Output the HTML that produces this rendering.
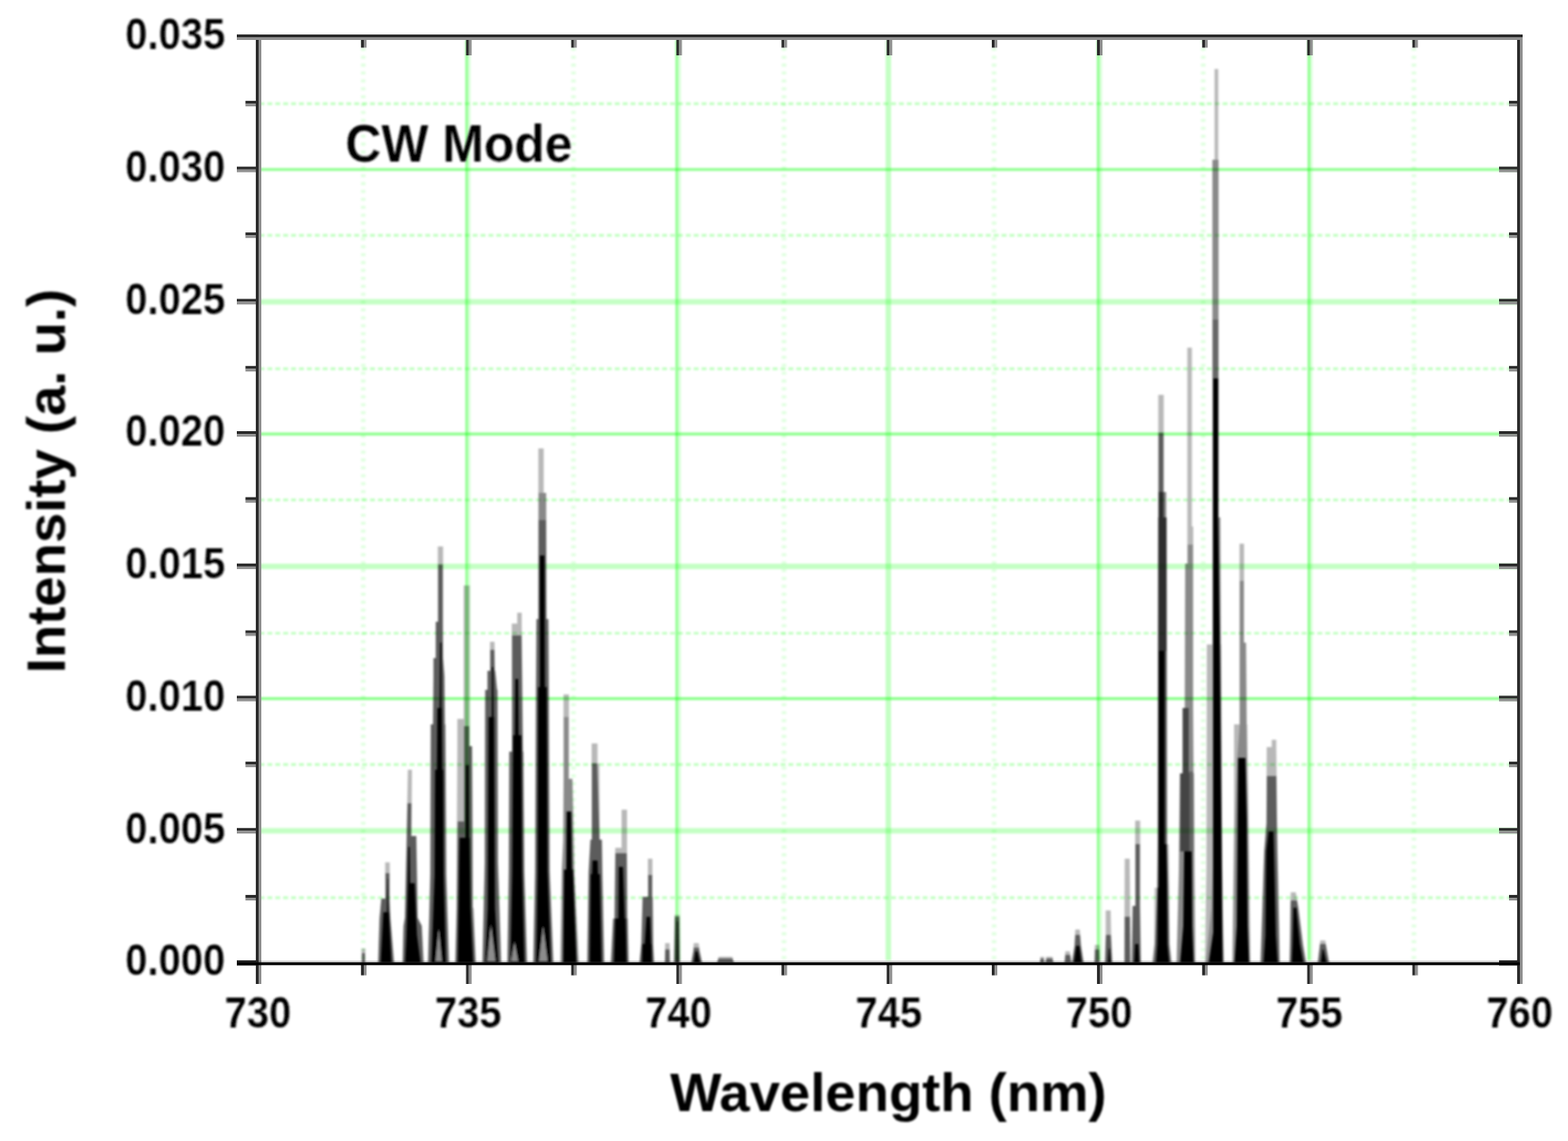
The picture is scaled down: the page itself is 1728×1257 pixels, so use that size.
<!DOCTYPE html>
<html lang="en"><head><meta charset="utf-8"><title>CW Mode spectrum</title>
<style>
html,body{margin:0;padding:0;background:#fff;}
body{width:1728px;height:1257px;overflow:hidden;}
svg{display:block;}
text{font-family:"Liberation Sans",sans-serif;font-weight:bold;fill:#000;}
.tk{font-size:44px;}
.ax{font-size:60px;}
.cw{font-size:55px;}
.tk,.cw{stroke:#fff;stroke-width:.1px;}
.gN{stroke:#00ff00;stroke-opacity:.45;stroke-width:2.7;fill:none;}
.gL{stroke:#00ff00;stroke-opacity:.16;stroke-width:3;fill:none;}
.gW{stroke:#00ff00;stroke-opacity:.23;stroke-width:6;fill:none;}
.gmv{stroke:#00ff00;stroke-opacity:.125;stroke-width:5;stroke-dasharray:3.3 5.4;fill:none;}
.gmh{stroke:#00ff00;stroke-opacity:.25;stroke-width:2.9;stroke-dasharray:5.4 3.3;fill:none;}
.d{stroke:#2a2a2a;stroke-width:3.2;fill:none;}
.g{stroke:#909090;stroke-width:3;fill:none;}
.s1{fill:#000;fill-opacity:.28;}
.s2{fill:#000;fill-opacity:.5;}
.sm{fill:#000;fill-opacity:.26;}
.s3{fill:#000;}
.h{fill:#fff;fill-opacity:.55;}
</style></head><body>
<svg width="1728" height="1257" viewBox="0 0 1728 1257">
<rect width="1728" height="1257" fill="#fff"/>
<defs><filter id="bl" x="-2%" y="-2%" width="104%" height="104%"><feGaussianBlur stdDeviation="0.9"/></filter><filter id="bg" x="-2%" y="-2%" width="104%" height="104%"><feGaussianBlur stdDeviation="1"/></filter><filter id="ba" x="-2%" y="-2%" width="104%" height="104%"><feGaussianBlur stdDeviation="0.6"/></filter><filter id="bt" x="-5%" y="-5%" width="110%" height="110%"><feGaussianBlur stdDeviation="0.8"/></filter></defs>
<g id="grid" filter="url(#bg)">
<line class="gmv" x1="400.3" y1="44" x2="400.3" y2="1058"/>
<line class="gmv" x1="632.0" y1="44" x2="632.0" y2="1058"/>
<line class="gmv" x1="864.0" y1="44" x2="864.0" y2="1058"/>
<line class="gmv" x1="1095.5" y1="44" x2="1095.5" y2="1058"/>
<line class="gmv" x1="1326.0" y1="44" x2="1326.0" y2="1058"/>
<line class="gmv" x1="1558.2" y1="44" x2="1558.2" y2="1058"/>
<line class="gmh" x1="286" y1="989.0" x2="1672" y2="989.0"/>
<line class="gmh" x1="286" y1="842.2" x2="1672" y2="842.2"/>
<line class="gmh" x1="286" y1="697.6" x2="1672" y2="697.6"/>
<line class="gmh" x1="286" y1="550.8" x2="1672" y2="550.8"/>
<line class="gmh" x1="286" y1="406.3" x2="1672" y2="406.3"/>
<line class="gmh" x1="286" y1="259.2" x2="1672" y2="259.2"/>
<line class="gmh" x1="286" y1="114.2" x2="1672" y2="114.2"/>
<line class="gN" x1="514.2" y1="44" x2="514.2" y2="1058"/>
<line class="gL" x1="517.0" y1="44" x2="517.0" y2="1058"/>
<line class="gN" x1="745.8" y1="44" x2="745.8" y2="1058"/>
<line class="gL" x1="748.8" y1="44" x2="748.8" y2="1058"/>
<line class="gW" x1="979.0" y1="44" x2="979.0" y2="1058"/>
<line class="gN" x1="1210.2" y1="44" x2="1210.2" y2="1058"/>
<line class="gL" x1="1213.0" y1="44" x2="1213.0" y2="1058"/>
<line class="gN" x1="1442.4" y1="44" x2="1442.4" y2="1058"/>
<line class="gL" x1="1445.0" y1="44" x2="1445.0" y2="1058"/>
<line class="gW" x1="286" y1="915.3" x2="1672" y2="915.3"/>
<line class="gN" style="stroke-width:3.1" x1="286" y1="769.6" x2="1672" y2="769.6"/>
<line class="gW" x1="286" y1="623.9" x2="1672" y2="623.9"/>
<line class="gN" style="stroke-width:3.1" x1="286" y1="478.1" x2="1672" y2="478.1"/>
<line class="gW" x1="286" y1="332.4" x2="1672" y2="332.4"/>
<line class="gN" style="stroke-width:3.1" x1="286" y1="186.7" x2="1672" y2="186.7"/>
</g>
<g id="spectrum" filter="url(#bl)">
<polygon class="s1" points="398.5,1045.0 398.5,1061.0 402.5,1061.0 402.5,1045.0"/>
<polygon class="s1" points="424.5,950.0 424.5,990.0 420.0,990.0 418.0,1012.0 416.5,1061.0 434.5,1061.0 430.5,1012.0 429.5,990.0 429.5,990.0 429.5,950.0"/>
<polygon class="s1" points="449.5,848.0 448.0,921.0 448.0,921.0 446.0,1011.0 444.5,1020.0 443.5,1061.0 467.0,1061.0 465.0,1020.0 460.5,1011.0 459.0,921.0 453.5,921.0 454.0,848.0"/>
<polygon class="s1" points="482.5,602.0 482.5,685.0 480.0,685.0 480.0,725.0 477.5,725.0 477.5,745.0 477.0,798.0 474.5,798.0 474.0,963.0 471.5,1061.0 495.0,1061.0 492.0,963.0 491.0,798.0 490.5,798.0 490.0,745.0 488.5,725.0 488.5,725.0 488.3,685.0 488.3,685.0 488.3,602.0"/>
<polygon class="s1" points="511.0,645.0 511.0,792.0 504.0,792.0 504.0,822.0 504.0,822.0 503.0,1000.0 503.0,1000.0 501.5,1061.0 524.5,1061.0 522.0,1000.0 521.0,1000.0 520.5,822.0 517.5,822.0 517.5,792.0 517.5,792.0 517.5,645.0"/>
<polygon class="s1" points="540.0,707.0 540.0,739.0 537.0,739.0 537.0,760.0 534.5,760.0 534.0,950.0 531.5,1061.0 552.5,1061.0 549.0,950.0 548.5,760.0 548.0,760.0 546.0,739.0 545.5,739.0 545.0,707.0"/>
<polygon class="s1" points="570.0,675.0 570.0,687.0 564.0,687.0 564.0,828.0 561.0,828.0 560.5,960.0 559.0,1061.0 581.0,1061.0 578.0,960.0 577.0,828.0 576.5,828.0 575.0,687.0 575.0,687.0 575.0,675.0"/>
<polygon class="s1" points="593.3,494.0 593.3,543.0 593.3,543.0 593.0,682.0 591.0,682.0 590.5,757.0 589.5,960.0 587.5,1061.0 610.0,1061.0 606.0,960.0 605.0,757.0 604.5,682.0 602.5,682.0 602.0,543.0 599.2,543.0 599.2,494.0"/>
<polygon class="s1" points="621.0,765.0 621.0,858.0 621.0,858.0 620.5,927.0 619.0,958.0 617.5,1061.0 638.0,1061.0 633.0,958.0 632.5,927.0 631.0,858.0 627.0,858.0 627.0,765.0"/>
<polygon class="s1" points="652.0,819.0 652.0,841.0 652.0,841.0 652.0,925.0 650.5,925.0 648.5,960.0 647.0,1061.0 666.0,1061.0 664.0,960.0 663.5,925.0 661.0,925.0 660.5,841.0 658.5,841.0 658.5,819.0"/>
<polygon class="s1" points="685.0,892.0 685.0,934.0 678.0,934.0 677.0,1012.0 675.5,1012.0 673.0,1061.0 693.0,1061.0 692.0,1012.0 691.5,1012.0 691.0,934.0 691.0,934.0 691.0,892.0"/>
<polygon class="s1" points="714.0,946.0 714.0,988.0 708.0,988.0 706.5,1040.0 704.5,1061.0 721.0,1061.0 720.0,1040.0 719.5,988.0 719.0,988.0 719.0,946.0"/>
<polygon class="s1" points="743.5,1008.0 742.5,1061.0 749.5,1061.0 749.0,1008.0"/>
<polygon class="s1" points="733.0,1039.0 732.5,1061.0 738.5,1061.0 738.0,1039.0"/>
<polygon class="s1" points="764.5,1039.0 764.0,1047.0 761.5,1061.0 774.0,1061.0 771.0,1047.0 770.0,1039.0"/>
<polygon class="s1" points="792.0,1054.0 790.0,1061.0 809.0,1061.0 807.0,1054.0"/>
<polygon class="s1" points="1146.5,1054.0 1146.0,1061.0 1151.0,1061.0 1150.5,1054.0"/>
<polygon class="s1" points="1153.0,1054.0 1152.0,1061.0 1161.0,1061.0 1160.0,1054.0"/>
<polygon class="s1" points="1185.0,1024.0 1184.0,1042.0 1181.0,1061.0 1194.5,1061.0 1191.5,1042.0 1190.0,1024.0"/>
<polygon class="s1" points="1174.0,1048.0 1173.0,1061.0 1181.0,1061.0 1179.0,1048.0"/>
<polygon class="s1" points="1206.5,1041.0 1206.0,1061.0 1212.0,1061.0 1211.5,1041.0"/>
<polygon class="s1" points="1218.5,1003.0 1218.5,1030.0 1217.5,1061.0 1226.0,1061.0 1224.5,1030.0 1224.0,1003.0"/>
<polygon class="s1" points="1239.5,946.0 1239.0,1061.0 1246.0,1061.0 1245.0,946.0"/>
<polygon class="s1" points="1251.0,904.0 1251.0,998.0 1248.0,998.0 1247.0,1061.0 1257.5,1061.0 1256.5,998.0 1256.5,998.0 1256.5,904.0"/>
<polygon class="s1" points="1276.5,435.0 1276.5,570.0 1276.0,570.0 1275.5,930.0 1275.5,930.0 1275.0,978.0 1272.5,978.0 1272.0,1040.0 1269.5,1061.0 1291.5,1061.0 1289.0,1040.0 1288.5,978.0 1288.5,978.0 1288.0,930.0 1286.5,930.0 1286.0,570.0 1282.5,570.0 1282.5,435.0"/>
<polygon class="s1" points="1308.5,383.0 1308.5,580.0 1308.5,580.0 1308.5,621.0 1306.0,621.0 1305.5,780.0 1303.0,780.0 1303.0,852.0 1300.0,852.0 1299.0,960.0 1296.5,1061.0 1317.5,1061.0 1316.5,960.0 1316.0,852.0 1315.5,852.0 1315.0,780.0 1315.0,780.0 1315.0,621.0 1315.0,621.0 1315.0,580.0 1313.5,580.0 1313.5,383.0"/>
<polygon class="s1" points="1338.5,76.0 1338.5,176.0 1336.0,176.0 1336.0,570.0 1336.0,570.0 1336.0,710.0 1330.0,710.0 1329.5,955.0 1328.0,1061.0 1349.0,1061.0 1347.0,955.0 1346.0,710.0 1345.5,710.0 1345.0,570.0 1343.0,570.0 1343.0,176.0 1342.5,176.0 1342.5,76.0"/>
<polygon class="s1" points="1366.0,599.0 1366.0,708.0 1366.0,708.0 1366.0,798.0 1360.0,798.0 1360.0,903.0 1358.0,1061.0 1378.0,1061.0 1376.0,903.0 1374.5,798.0 1374.0,798.0 1373.3,708.0 1371.0,708.0 1371.0,599.0"/>
<polygon class="s1" points="1401.5,815.0 1401.5,823.0 1396.0,823.0 1395.5,907.0 1393.0,938.0 1389.0,1061.0 1410.5,1061.0 1408.0,938.0 1407.5,907.0 1406.5,823.0 1406.5,823.0 1406.5,815.0"/>
<polygon class="s1" points="1422.5,983.0 1422.0,1000.0 1421.5,1040.0 1421.0,1061.0 1439.5,1061.0 1436.0,1040.0 1431.0,1000.0 1428.0,983.0"/>
<polygon class="s1" points="1455.0,1036.0 1452.0,1061.0 1465.0,1061.0 1460.5,1036.0"/>
<polygon class="sm" points="621.4,790.0 621.4,858.0 621.4,858.0 620.9,927.0 619.4,958.0 617.9,1061.0 637.6,1061.0 632.6,958.0 632.1,927.0 630.6,858.0 626.6,858.0 626.6,790.0"/>
<polygon class="sm" points="593.6,543.0 593.6,573.0 601.7,573.0 601.7,543.0"/>
<polygon class="sm" points="1308.9,600.0 1308.9,621.0 1306.4,621.0 1305.9,780.0 1303.4,780.0 1303.4,852.0 1300.4,852.0 1299.4,960.0 1296.9,1061.0 1317.1,1061.0 1316.1,960.0 1315.6,852.0 1315.1,852.0 1314.6,780.0 1314.6,780.0 1314.6,621.0 1314.6,621.0 1314.6,600.0"/>
<polygon class="sm" points="1310.0,850.0 1310.0,938.0 1314.8,938.0 1314.8,850.0"/>
<polygon class="sm" points="1336.3,176.0 1336.3,570.0 1336.3,570.0 1336.3,955.0 1335.0,1000.0 1329.0,1061.0 1348.5,1061.0 1347.0,1000.0 1346.5,955.0 1344.7,570.0 1342.7,570.0 1342.7,176.0"/>
<polygon class="sm" points="1336.5,352.0 1336.5,417.0 1342.5,417.0 1342.5,352.0"/>
<polygon class="sm" points="1366.3,640.0 1366.3,708.0 1366.3,708.0 1366.3,798.0 1363.5,835.0 1361.0,903.0 1358.5,1061.0 1377.5,1061.0 1375.5,903.0 1374.0,835.0 1373.7,798.0 1373.0,708.0 1370.7,708.0 1370.7,640.0"/>
<polygon class="s2" points="398.9,1050.0 398.9,1061.0 402.1,1061.0 402.1,1050.0"/>
<polygon class="s2" points="424.9,962.0 424.9,990.0 420.4,990.0 418.4,1012.0 416.9,1061.0 434.1,1061.0 430.1,1012.0 429.1,990.0 429.1,990.0 429.1,962.0"/>
<polygon class="s2" points="449.1,885.0 448.4,921.0 448.4,921.0 446.4,1011.0 444.9,1020.0 443.9,1061.0 466.6,1061.0 464.6,1020.0 460.1,1011.0 458.6,921.0 453.1,921.0 453.3,885.0"/>
<polygon class="s2" points="482.9,622.0 482.9,685.0 480.4,685.0 480.4,725.0 477.9,725.0 477.9,745.0 477.4,798.0 474.9,798.0 474.4,963.0 471.9,1061.0 494.6,1061.0 491.6,963.0 490.6,798.0 490.1,798.0 489.6,745.0 488.1,725.0 488.1,725.0 487.9,685.0 487.9,685.0 487.9,622.0"/>
<polygon class="s2" points="511.5,800.0 511.5,822.0 511.5,822.0 511.5,905.0 504.5,905.0 503.5,1000.0 502.0,1061.0 524.0,1061.0 521.0,1000.0 520.5,905.0 520.5,905.0 520.0,822.0 517.0,822.0 517.0,800.0"/>
<polygon class="s2" points="540.4,716.0 540.4,739.0 537.4,739.0 537.4,760.0 534.9,760.0 534.4,950.0 531.9,1061.0 552.1,1061.0 548.6,950.0 548.1,760.0 547.6,760.0 545.6,739.0 545.1,739.0 544.7,716.0"/>
<polygon class="s2" points="564.4,700.0 564.4,828.0 561.4,828.0 560.9,960.0 559.4,1061.0 580.6,1061.0 577.6,960.0 576.6,828.0 576.1,828.0 574.7,700.0"/>
<polygon class="s2" points="593.6,573.0 593.4,682.0 591.4,682.0 590.9,757.0 589.9,960.0 587.9,1061.0 609.6,1061.0 605.6,960.0 604.6,757.0 604.1,682.0 602.1,682.0 601.7,573.0"/>
<polygon class="s2" points="652.4,841.0 652.4,925.0 650.9,925.0 648.9,960.0 647.4,1061.0 665.6,1061.0 663.6,960.0 663.1,925.0 660.6,925.0 658.1,841.0"/>
<polygon class="s2" points="678.3,940.0 677.4,1012.0 675.9,1012.0 673.4,1061.0 692.6,1061.0 691.6,1012.0 691.1,1012.0 690.6,940.0"/>
<polygon class="s2" points="714.4,964.0 714.4,988.0 708.4,988.0 706.9,1040.0 704.9,1061.0 720.6,1061.0 719.6,1040.0 719.1,988.0 718.6,988.0 718.6,964.0"/>
<polygon class="s2" points="743.9,1010.0 742.9,1061.0 749.1,1061.0 748.6,1010.0"/>
<polygon class="s2" points="733.2,1046.0 732.9,1061.0 738.1,1061.0 737.8,1046.0"/>
<polygon class="s2" points="764.6,1044.0 764.4,1047.0 761.9,1061.0 773.6,1061.0 770.6,1047.0 770.2,1044.0"/>
<polygon class="s2" points="791.8,1056.0 790.4,1061.0 808.6,1061.0 807.2,1056.0"/>
<polygon class="s2" points="1146.8,1056.0 1146.4,1061.0 1150.6,1061.0 1150.2,1056.0"/>
<polygon class="s2" points="1153.1,1056.0 1152.4,1061.0 1160.6,1061.0 1159.9,1056.0"/>
<polygon class="s2" points="1185.1,1030.0 1184.4,1042.0 1181.4,1061.0 1194.1,1061.0 1191.1,1042.0 1190.1,1030.0"/>
<polygon class="s2" points="1174.1,1052.0 1173.4,1061.0 1180.6,1061.0 1179.2,1052.0"/>
<polygon class="s2" points="1206.8,1046.0 1206.4,1061.0 1211.6,1061.0 1211.2,1046.0"/>
<polygon class="s2" points="1218.9,1030.0 1217.9,1061.0 1225.6,1061.0 1224.1,1030.0"/>
<polygon class="s2" points="1239.6,1010.0 1239.4,1061.0 1245.6,1061.0 1245.2,1010.0"/>
<polygon class="s2" points="1251.4,930.0 1251.4,998.0 1248.4,998.0 1247.4,1061.0 1257.1,1061.0 1256.1,998.0 1256.1,998.0 1256.1,930.0"/>
<polygon class="s2" points="1276.8,477.0 1276.8,570.0 1276.5,570.0 1276.0,930.0 1275.5,978.0 1273.0,1040.0 1271.0,1061.0 1290.5,1061.0 1288.5,1040.0 1287.5,978.0 1286.0,930.0 1285.5,570.0 1282.2,570.0 1282.2,477.0"/>
<polygon class="s2" points="1276.8,542.0 1276.8,717.0 1285.2,717.0 1285.2,542.0"/>
<polygon class="s2" points="1303.5,780.0 1303.5,852.0 1301.0,852.0 1300.5,938.0 1310.5,938.0 1310.5,852.0 1310.0,852.0 1310.0,780.0"/>
<polygon class="s2" points="1396.2,855.0 1395.9,907.0 1393.4,938.0 1389.4,1061.0 1410.1,1061.0 1407.6,938.0 1407.1,907.0 1406.5,855.0"/>
<polygon class="s2" points="1422.6,992.0 1422.4,1000.0 1421.9,1040.0 1421.4,1061.0 1439.1,1061.0 1435.6,1040.0 1430.6,1000.0 1429.2,992.0"/>
<polygon class="s2" points="1454.9,1040.0 1452.4,1061.0 1464.6,1061.0 1460.8,1040.0"/>
<polygon class="s3" points="427.0,968.0 426.5,1005.0 422.5,1005.0 419.5,1061.0 431.5,1061.0 428.5,1005.0 428.0,1005.0 427.5,968.0"/>
<polygon class="s3" points="450.0,933.0 449.5,973.0 449.5,973.0 448.0,1030.0 446.5,1061.0 463.5,1061.0 459.5,1030.0 457.0,973.0 452.0,973.0 451.5,933.0"/>
<polygon class="s3" points="485.0,708.0 484.5,780.0 482.0,780.0 481.5,848.0 479.5,848.0 479.0,963.0 475.5,1061.0 491.5,1061.0 489.0,963.0 488.5,848.0 487.5,848.0 487.0,780.0 486.5,780.0 486.5,708.0"/>
<polygon class="s3" points="513.5,843.0 513.2,923.0 506.5,923.0 505.5,1000.0 504.5,1061.0 521.5,1061.0 518.5,1000.0 517.5,923.0 516.8,923.0 516.5,843.0"/>
<polygon class="s3" points="542.0,735.0 542.0,790.0 538.5,790.0 537.5,1000.0 535.0,1061.0 549.0,1061.0 545.5,1000.0 544.5,790.0 544.0,790.0 543.5,735.0"/>
<polygon class="s3" points="568.0,748.0 567.5,810.0 565.5,810.0 564.5,960.0 562.5,1061.0 578.0,1061.0 575.5,960.0 574.5,810.0 571.5,810.0 571.0,748.0"/>
<polygon class="s3" points="595.0,612.0 595.0,757.0 593.2,757.0 592.5,960.0 591.0,1061.0 607.0,1061.0 603.5,960.0 602.5,757.0 600.5,757.0 600.0,612.0"/>
<polygon class="s3" points="624.5,894.0 624.0,958.0 621.5,958.0 620.5,1061.0 635.5,1061.0 631.5,958.0 630.5,958.0 629.5,894.0"/>
<polygon class="s3" points="653.0,948.0 652.5,963.0 651.0,963.0 650.0,1061.0 663.0,1061.0 661.0,963.0 659.0,963.0 658.5,948.0"/>
<polygon class="s3" points="682.0,955.0 681.5,1012.0 678.0,1012.0 676.5,1061.0 690.5,1061.0 689.5,1012.0 688.5,1012.0 686.5,955.0"/>
<polygon class="s3" points="712.5,1010.0 710.5,1040.0 708.0,1040.0 707.5,1061.0 718.5,1061.0 718.0,1040.0 717.5,1040.0 716.5,1010.0"/>
<polygon class="s3" points="746.0,1015.0 745.5,1061.0 747.5,1061.0 747.0,1015.0"/>
<polygon class="s3" points="766.5,1048.0 764.5,1061.0 771.5,1061.0 768.5,1048.0"/>
<polygon class="s3" points="1186.0,1042.0 1183.5,1061.0 1192.0,1061.0 1189.5,1042.0"/>
<polygon class="s3" points="1222.0,1045.0 1221.0,1061.0 1224.0,1061.0 1223.0,1045.0"/>
<polygon class="s3" points="1251.0,1040.0 1250.0,1061.0 1255.5,1061.0 1254.5,1040.0"/>
<polygon class="s3" points="1277.0,717.0 1277.0,930.0 1277.0,930.0 1277.0,978.0 1276.0,978.0 1275.5,1040.0 1274.0,1061.0 1288.5,1061.0 1286.5,1040.0 1286.0,978.0 1286.0,978.0 1285.5,930.0 1283.5,930.0 1283.5,717.0"/>
<polygon class="s3" points="1305.0,938.0 1304.0,1020.0 1300.5,1061.0 1315.5,1061.0 1314.0,1020.0 1313.5,938.0"/>
<polygon class="s3" points="1337.0,417.0 1337.0,570.0 1337.0,733.0 1337.0,955.0 1337.0,1027.0 1332.0,1061.0 1347.5,1061.0 1347.0,1027.0 1346.5,955.0 1344.5,733.0 1342.5,570.0 1342.5,417.0"/>
<polygon class="s3" points="1364.5,835.0 1364.0,903.0 1363.0,1020.0 1360.5,1061.0 1376.5,1061.0 1375.0,1020.0 1374.0,903.0 1372.5,835.0"/>
<polygon class="s3" points="1398.0,916.0 1395.5,938.0 1394.5,1030.0 1392.5,1061.0 1408.0,1061.0 1406.0,1030.0 1404.0,938.0 1403.5,916.0"/>
<polygon class="s3" points="1425.5,1000.0 1424.5,1040.0 1423.5,1061.0 1436.5,1061.0 1432.5,1040.0 1428.5,1000.0"/>
<polygon class="s3" points="1457.5,1046.0 1455.5,1061.0 1462.0,1061.0 1458.5,1046.0"/>
<polygon class="h" points="483.5,1023.0 480.0,1059.0 487.0,1059.0"/>
<polygon class="h" points="541.0,1018.0 537.0,1059.0 546.0,1059.0"/>
<polygon class="h" points="567.0,1037.0 563.5,1059.0 571.0,1059.0"/>
<polygon class="h" points="598.5,1020.0 594.0,1059.0 603.5,1059.0"/>
</g>
<g id="axes" filter="url(#ba)">
<line class="d" x1="399.4" y1="41" x2="399.4" y2="52.5"/>
<line class="g" x1="402.4" y1="41" x2="402.4" y2="52.5"/>
<line class="d" x1="399.4" y1="1061" x2="399.4" y2="1074.5"/>
<line class="g" x1="402.4" y1="1061" x2="402.4" y2="1074.5"/>
<line class="d" x1="515.2" y1="41" x2="515.2" y2="61"/>
<line class="g" x1="518.2" y1="41" x2="518.2" y2="61"/>
<line class="d" x1="515.2" y1="1061" x2="515.2" y2="1084"/>
<line class="g" x1="518.2" y1="1061" x2="518.2" y2="1084"/>
<line class="d" x1="631.1" y1="41" x2="631.1" y2="52.5"/>
<line class="g" x1="634.1" y1="41" x2="634.1" y2="52.5"/>
<line class="d" x1="631.1" y1="1061" x2="631.1" y2="1074.5"/>
<line class="g" x1="634.1" y1="1061" x2="634.1" y2="1074.5"/>
<line class="d" x1="747.0" y1="41" x2="747.0" y2="61"/>
<line class="g" x1="750.0" y1="41" x2="750.0" y2="61"/>
<line class="d" x1="747.0" y1="1061" x2="747.0" y2="1084"/>
<line class="g" x1="750.0" y1="1061" x2="750.0" y2="1084"/>
<line class="d" x1="862.9" y1="41" x2="862.9" y2="52.5"/>
<line class="g" x1="865.9" y1="41" x2="865.9" y2="52.5"/>
<line class="d" x1="862.9" y1="1061" x2="862.9" y2="1074.5"/>
<line class="g" x1="865.9" y1="1061" x2="865.9" y2="1074.5"/>
<line class="d" x1="978.8" y1="41" x2="978.8" y2="61"/>
<line class="g" x1="981.8" y1="41" x2="981.8" y2="61"/>
<line class="d" x1="978.8" y1="1061" x2="978.8" y2="1084"/>
<line class="g" x1="981.8" y1="1061" x2="981.8" y2="1084"/>
<line class="d" x1="1094.6" y1="41" x2="1094.6" y2="52.5"/>
<line class="g" x1="1097.6" y1="41" x2="1097.6" y2="52.5"/>
<line class="d" x1="1094.6" y1="1061" x2="1094.6" y2="1074.5"/>
<line class="g" x1="1097.6" y1="1061" x2="1097.6" y2="1074.5"/>
<line class="d" x1="1210.5" y1="41" x2="1210.5" y2="61"/>
<line class="g" x1="1213.5" y1="41" x2="1213.5" y2="61"/>
<line class="d" x1="1210.5" y1="1061" x2="1210.5" y2="1084"/>
<line class="g" x1="1213.5" y1="1061" x2="1213.5" y2="1084"/>
<line class="d" x1="1326.4" y1="41" x2="1326.4" y2="52.5"/>
<line class="g" x1="1329.4" y1="41" x2="1329.4" y2="52.5"/>
<line class="d" x1="1326.4" y1="1061" x2="1326.4" y2="1074.5"/>
<line class="g" x1="1329.4" y1="1061" x2="1329.4" y2="1074.5"/>
<line class="d" x1="1442.2" y1="41" x2="1442.2" y2="61"/>
<line class="g" x1="1445.2" y1="41" x2="1445.2" y2="61"/>
<line class="d" x1="1442.2" y1="1061" x2="1442.2" y2="1084"/>
<line class="g" x1="1445.2" y1="1061" x2="1445.2" y2="1084"/>
<line class="d" x1="1558.1" y1="41" x2="1558.1" y2="52.5"/>
<line class="g" x1="1561.1" y1="41" x2="1561.1" y2="52.5"/>
<line class="d" x1="1558.1" y1="1061" x2="1558.1" y2="1074.5"/>
<line class="g" x1="1561.1" y1="1061" x2="1561.1" y2="1074.5"/>
<line class="d" x1="261" y1="1059.5" x2="285" y2="1059.5"/>
<line class="g" x1="261" y1="1062.5" x2="285" y2="1062.5"/>
<line class="d" x1="1652" y1="1059.5" x2="1675" y2="1059.5"/>
<line class="g" x1="1652" y1="1062.5" x2="1675" y2="1062.5"/>
<line class="d" x1="270.5" y1="987.5" x2="285" y2="987.5"/>
<line class="g" x1="270.5" y1="990.5" x2="285" y2="990.5"/>
<line class="d" x1="1663" y1="987.5" x2="1675" y2="987.5"/>
<line class="g" x1="1663" y1="990.5" x2="1675" y2="990.5"/>
<line class="d" x1="261" y1="913.8" x2="285" y2="913.8"/>
<line class="g" x1="261" y1="916.8" x2="285" y2="916.8"/>
<line class="d" x1="1652" y1="913.8" x2="1675" y2="913.8"/>
<line class="g" x1="1652" y1="916.8" x2="1675" y2="916.8"/>
<line class="d" x1="270.5" y1="840.7" x2="285" y2="840.7"/>
<line class="g" x1="270.5" y1="843.7" x2="285" y2="843.7"/>
<line class="d" x1="1663" y1="840.7" x2="1675" y2="840.7"/>
<line class="g" x1="1663" y1="843.7" x2="1675" y2="843.7"/>
<line class="d" x1="261" y1="768.1" x2="285" y2="768.1"/>
<line class="g" x1="261" y1="771.1" x2="285" y2="771.1"/>
<line class="d" x1="1652" y1="768.1" x2="1675" y2="768.1"/>
<line class="g" x1="1652" y1="771.1" x2="1675" y2="771.1"/>
<line class="d" x1="270.5" y1="696.1" x2="285" y2="696.1"/>
<line class="g" x1="270.5" y1="699.1" x2="285" y2="699.1"/>
<line class="d" x1="1663" y1="696.1" x2="1675" y2="696.1"/>
<line class="g" x1="1663" y1="699.1" x2="1675" y2="699.1"/>
<line class="d" x1="261" y1="622.4" x2="285" y2="622.4"/>
<line class="g" x1="261" y1="625.4" x2="285" y2="625.4"/>
<line class="d" x1="1652" y1="622.4" x2="1675" y2="622.4"/>
<line class="g" x1="1652" y1="625.4" x2="1675" y2="625.4"/>
<line class="d" x1="270.5" y1="549.3" x2="285" y2="549.3"/>
<line class="g" x1="270.5" y1="552.3" x2="285" y2="552.3"/>
<line class="d" x1="1663" y1="549.3" x2="1675" y2="549.3"/>
<line class="g" x1="1663" y1="552.3" x2="1675" y2="552.3"/>
<line class="d" x1="261" y1="476.6" x2="285" y2="476.6"/>
<line class="g" x1="261" y1="479.6" x2="285" y2="479.6"/>
<line class="d" x1="1652" y1="476.6" x2="1675" y2="476.6"/>
<line class="g" x1="1652" y1="479.6" x2="1675" y2="479.6"/>
<line class="d" x1="270.5" y1="404.8" x2="285" y2="404.8"/>
<line class="g" x1="270.5" y1="407.8" x2="285" y2="407.8"/>
<line class="d" x1="1663" y1="404.8" x2="1675" y2="404.8"/>
<line class="g" x1="1663" y1="407.8" x2="1675" y2="407.8"/>
<line class="d" x1="261" y1="330.9" x2="285" y2="330.9"/>
<line class="g" x1="261" y1="333.9" x2="285" y2="333.9"/>
<line class="d" x1="1652" y1="330.9" x2="1675" y2="330.9"/>
<line class="g" x1="1652" y1="333.9" x2="1675" y2="333.9"/>
<line class="d" x1="270.5" y1="257.7" x2="285" y2="257.7"/>
<line class="g" x1="270.5" y1="260.7" x2="285" y2="260.7"/>
<line class="d" x1="1663" y1="257.7" x2="1675" y2="257.7"/>
<line class="g" x1="1663" y1="260.7" x2="1675" y2="260.7"/>
<line class="d" x1="261" y1="185.2" x2="285" y2="185.2"/>
<line class="g" x1="261" y1="188.2" x2="285" y2="188.2"/>
<line class="d" x1="1652" y1="185.2" x2="1675" y2="185.2"/>
<line class="g" x1="1652" y1="188.2" x2="1675" y2="188.2"/>
<line class="d" x1="270.5" y1="112.7" x2="285" y2="112.7"/>
<line class="g" x1="270.5" y1="115.7" x2="285" y2="115.7"/>
<line class="d" x1="1663" y1="112.7" x2="1675" y2="112.7"/>
<line class="g" x1="1663" y1="115.7" x2="1675" y2="115.7"/>
<line class="d" x1="261" y1="39.5" x2="285" y2="39.5"/>
<line class="g" x1="261" y1="42.5" x2="285" y2="42.5"/>
<line class="d" x1="1652" y1="39.5" x2="1675" y2="39.5"/>
<line class="g" x1="1652" y1="42.5" x2="1675" y2="42.5"/>
<line class="d" x1="283.5" y1="38" x2="283.5" y2="1084"/>
<line class="g" x1="286.5" y1="38" x2="286.5" y2="1084"/>
<line class="d" x1="1673.5" y1="38" x2="1673.5" y2="1084"/>
<line class="g" x1="1676.5" y1="38" x2="1676.5" y2="1084"/>
<line class="d" x1="261" y1="39.5" x2="1678" y2="39.5"/>
<line class="g" x1="261" y1="42.5" x2="1678" y2="42.5"/>
<rect x="261" y="1058.4" width="1414" height="1.8" fill="#000" fill-opacity=".2"/>
<rect x="261" y="1060.2" width="1414" height="3.1" fill="#000"/>
</g>
<g id="labels" filter="url(#bt)">
<text class="tk" text-anchor="end" transform="translate(248.2 1074.3) scale(1 1.095)">0.000</text>
<text class="tk" text-anchor="end" transform="translate(248.2 928.6) scale(1 1.095)">0.005</text>
<text class="tk" text-anchor="end" transform="translate(248.2 782.9) scale(1 1.095)">0.010</text>
<text class="tk" text-anchor="end" transform="translate(248.2 637.2) scale(1 1.095)">0.015</text>
<text class="tk" text-anchor="end" transform="translate(248.2 491.4) scale(1 1.095)">0.020</text>
<text class="tk" text-anchor="end" transform="translate(248.2 345.7) scale(1 1.095)">0.025</text>
<text class="tk" text-anchor="end" transform="translate(248.2 200.0) scale(1 1.095)">0.030</text>
<text class="tk" text-anchor="end" transform="translate(248.2 54.3) scale(1 1.095)">0.035</text>
<text class="tk" text-anchor="middle" transform="translate(284.3 1132) scale(1 1.095)">730</text>
<text class="tk" text-anchor="middle" transform="translate(516.0 1132) scale(1 1.095)">735</text>
<text class="tk" text-anchor="middle" transform="translate(747.8 1132) scale(1 1.095)">740</text>
<text class="tk" text-anchor="middle" transform="translate(979.5 1132) scale(1 1.095)">745</text>
<text class="tk" text-anchor="middle" transform="translate(1211.3 1132) scale(1 1.095)">750</text>
<text class="tk" text-anchor="middle" transform="translate(1443.0 1132) scale(1 1.095)">755</text>
<text class="tk" text-anchor="middle" transform="translate(1674.8 1132) scale(1 1.095)">760</text>
<text class="ax" text-anchor="middle" x="979" y="1224">Wavelength (nm)</text>
<text class="ax" text-anchor="middle" transform="translate(71.5 530) rotate(-90)">Intensity (a. u.)</text>
<text class="cw" transform="translate(380.5 177.7) scale(1 1.06)">CW Mode</text>
</g>
</svg>
</body></html>
